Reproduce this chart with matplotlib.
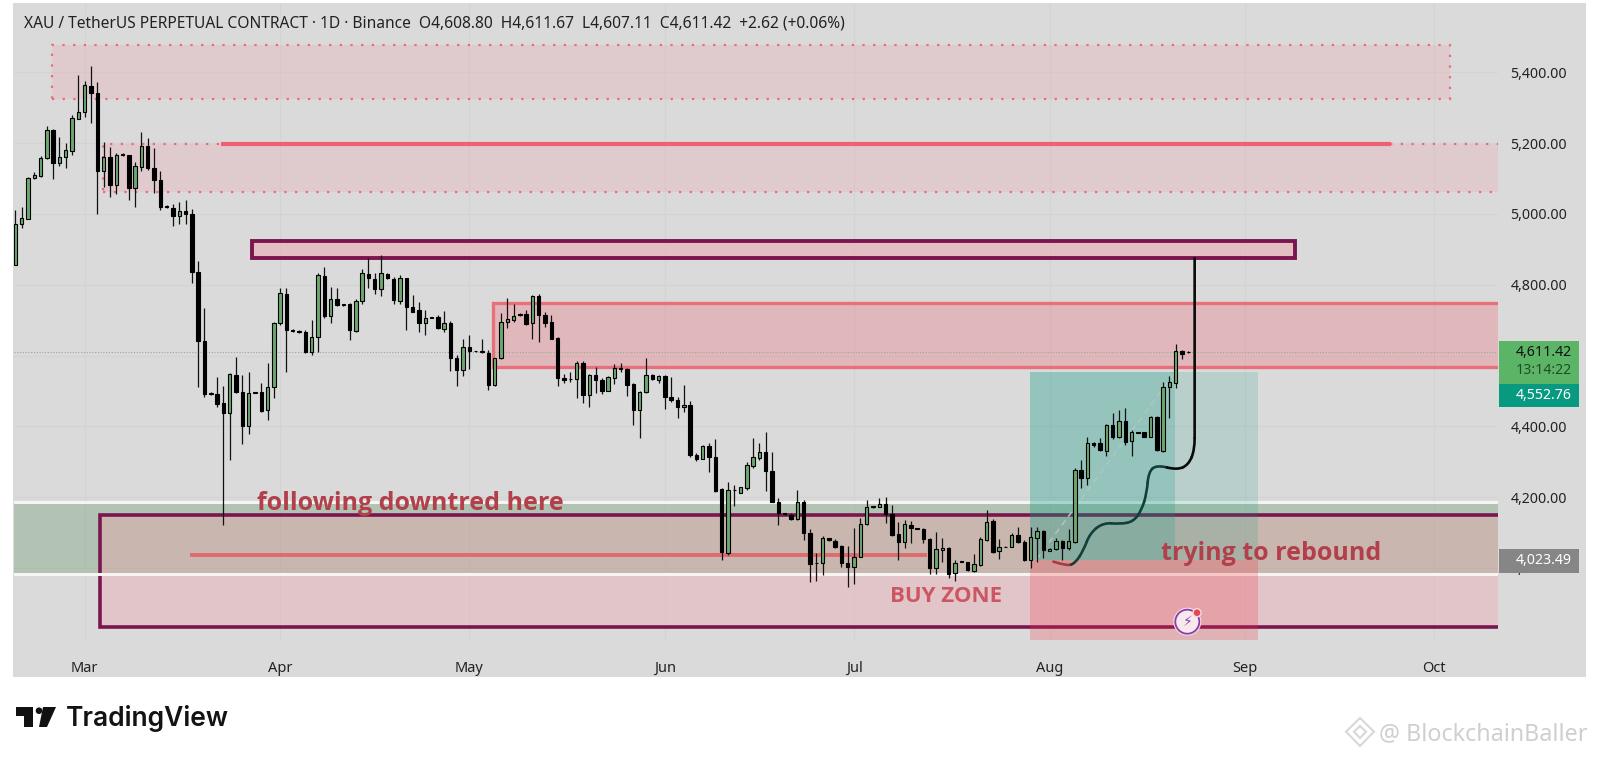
import matplotlib
matplotlib.use("Agg")
import matplotlib.pyplot as plt
from matplotlib.patches import Rectangle, PathPatch, Polygon, Circle
from matplotlib.path import Path
from matplotlib.transforms import Affine2D

# (open, high, low, close) daily candles
ohlc_feb = [
 (4856,5011,4856,4973),(4973,5020,4959,4988),(4985,5105,4985,5103),(5102,5120,5100,5110),
 (5108,5164,5105,5159),(5157,5248,5154,5238),(5238,5240,5098,5145),(5145,5217,5136,5162),
 (5162,5201,5131,5180),(5179,5280,5167,5270),(5268,5393,5268,5288)]
ohlc_mar = [
 (5287,5377,5273,5363),(5362,5418,5256,5342),(5342,5374,5001,5121),(5121,5204,5077,5162),
 (5160,5189,5047,5082),(5082,5171,5057,5167),(5169,5171,5164,5166),(5166,5167,5040,5074),
 (5074,5148,5019,5136),(5134,5233,5122,5191),(5191,5214,5124,5129),(5131,5186,5058,5097),
 (5097,5122,5011,5020),(5022,5025,5016,5019),(5017,5028,4966,4995),(4995,5035,4971,5009),
 (5009,5040,4973,4999),(4999,5013,4804,4835),(4835,4866,4512,4640),(4641,4733,4484,4492),
 (4492,4496,4490,4495),(4492,4539,4454,4463),(4465,4513,4120,4439),(4439,4550,4306,4547),
 (4545,4597,4494,4496),(4496,4545,4351,4400),(4400,4554,4378,4494),(4495,4498,4493,4497),
 (4496,4522,4442,4444),(4445,4578,4418,4512),(4512,4696,4479,4691)]
ohlc_apr = [
 (4691,4790,4686,4778),(4775,4790,4554,4671),(4673,4674,4667,4669),(4669,4671,4664,4666),
 (4668,4673,4608,4611),(4611,4700,4601,4653),(4653,4832,4611,4827),(4824,4851,4705,4712),
 (4712,4795,4691,4759),(4759,4790,4740,4743),(4746,4747,4741,4743),(4747,4749,4644,4671),
 (4670,4759,4667,4754),(4754,4844,4747,4832),(4830,4875,4790,4819),(4817,4832,4773,4787),
 (4787,4884,4769,4832),(4830,4832,4817,4818),(4817,4821,4747,4757),(4755,4827,4747,4820),
 (4818,4818,4671,4736),(4736,4771,4723,4723),(4728,4752,4668,4693),(4693,4728,4658,4707),
 (4708,4708,4705,4706),(4708,4715,4675,4677),(4675,4726,4668,4693),(4693,4698,4557,4592),
 (4592,4601,4514,4559),(4559,4647,4542,4625)]
ohlc_may = [
 (4625,4658,4561,4613),(4613,4614,4611,4612),(4609,4648,4606,4613),(4608,4616,4503,4516),
 (4516,4592,4514,4592),(4592,4720,4590,4696),(4695,4762,4679,4702),(4700,4747,4696,4712),
 (4717,4719,4713,4714),(4718,4728,4687,4689),(4691,4771,4648,4768),(4768,4775,4639,4715),
 (4715,4724,4681,4693),(4694,4715,4647,4648),(4650,4653,4514,4538),(4538,4548,4523,4530),
 (4533,4554,4526,4535),(4535,4586,4479,4580),(4580,4586,4466,4489),(4489,4549,4456,4546),
 (4545,4569,4494,4531),(4531,4536,4492,4501),(4501,4541,4499,4539),(4538,4576,4520,4564),
 (4566,4578,4554,4561),(4561,4564,4486,4517),(4519,4523,4404,4447),(4447,4499,4366,4497),
 (4496,4593,4494,4545),(4544,4547,4531,4533),(4531,4544,4522,4541)]
ohlc_jun = [
 (4542,4544,4449,4484),(4484,4540,4470,4475),(4475,4484,4423,4454),(4454,4517,4442,4461),
 (4460,4473,4314,4319),(4319,4325,4303,4309),(4309,4348,4307,4345),(4345,4352,4272,4314),
 (4314,4365,4216,4218),(4223,4226,4022,4046),(4043,4244,4036,4219),(4219,4235,4174,4221),
 (4213,4230,4211,4228),(4226,4300,4221,4291),(4288,4367,4281,4314),(4311,4354,4306,4328),
 (4328,4383,4218,4274),(4275,4328,4185,4187),(4187,4197,4122,4154),(4155,4155,4150,4152),
 (4151,4154,4135,4137),(4137,4221,4135,4187),(4187,4192,4079,4098),(4100,4109,3961,4011),
 (4013,4043,3964,4015),(4013,4090,3980,4086),(4084,4086,4077,4079),(4076,4083,4055,4060),
 (4062,4065,4002,4013),(4013,4062,3947,4002)]
ohlc_jul = [
 (4002,4112,3956,4031),(4031,4140,4030,4125),(4123,4192,4121,4173),(4174,4175,4170,4171),
 (4173,4199,4171,4180),(4182,4200,4127,4153),(4153,4177,4090,4093),(4096,4131,4023,4073),
 (4072,4135,4055,4124),(4121,4133,4070,4112),(4113,4114,4110,4111),(4109,4112,4070,4081),
 (4083,4086,3984,3999),(3999,4102,3984,4053),(4051,4086,4018,4055),(4056,4058,3971,3984),
 (3986,4022,3964,4015),(4019,4020,4016,4017),(4016,4018,3992,3994),(3992,4039,3989,4010),
 (4008,4088,4006,4081),(4078,4164,4076,4131),(4133,4137,4043,4046),(4047,4083,4024,4058),
 (4059,4061,4058,4060),(4060,4098,4058,4093),(4093,4117,4070,4073),(4073,4078,4021,4023),
 (4023,4117,3999,4088),(4086,4117,4017,4105),(4105,4107,4028,4051)]
ohlc_aug = [
 (4049,4055,4047,4053),(4053,4086,4051,4076),(4076,4080,4023,4055),(4055,4109,4051,4075),
 (4073,4283,4070,4278),(4278,4305,4227,4253),(4253,4370,4234,4352),(4352,4357,4343,4348),
 (4352,4367,4331,4333),(4331,4407,4316,4405),(4405,4437,4364,4370),(4370,4447,4367,4416),
 (4416,4451,4348,4357),(4359,4390,4315,4383),(4382,4384,4381,4384),(4383,4385,4369,4371),
 (4371,4429,4369,4427),(4427,4429,4331,4333),(4331,4526,4329,4510),(4510,4541,4423,4526),
 (4523,4633,4507,4614),(4612,4616,4589,4604),(4608.80,4611.67,4607.11,4611.42)]
ohlc = ohlc_feb + ohlc_mar + ohlc_apr + ohlc_may + ohlc_jun + ohlc_jul + ohlc_aug

price_ticks = [5400, 5200, 5000, 4800, 4600, 4400, 4200, 4000]
price_labels = ["5,400.00", "5,200.00", "5,000.00", "4,800.00", "", "4,400.00", "4,200.00", "4,000.00"]
month_ticks = [11, 42, 72, 103, 133, 164, 195, 225]
month_labels = ["Mar", "Apr", "May", "Jun", "Jul", "Aug", "Sep", "Oct"]

# drawn zones: (first candle, last candle, low price, high price)
supply_top = (5.8, 227.5, 5324, 5477)
supply_mid = (13.9, 240, 5061, 5197)
resistance = (37.6, 202.9, 4875, 4925)
red_zone = (75.8, 240, 4567, 4748)
buy_zone = (13.5, 240, 3834, 4150)
green_band = (-5, 240, 3983, 4186)
mid_line = (32.6, 218.1, 5197)
buy_line = (27.7, 144.5, 4037)
entry_price, target_price, stop_price = 4023.49, 4552.76, 3797
position_x = (160.9, 183.9, 197)
curve_x = [164.6, 166.7, 168.05, 169.4, 170.4, 172.5, 175.2, 177.3, 178.6, 179.4, 179.7, 181, 184.2, 186, 187, 187, 187]
curve_y = [4018, 4005.6, 4013, 4051, 4098, 4128, 4124, 4131, 4164, 4211, 4272, 4291, 4277, 4291, 4333, 4400, 4875]

W, H = 1600, 757
fig = plt.figure(figsize=(W / 100, H / 100), dpi=100, facecolor="white")
plt.rcParams["font.family"] = ["Noto Sans", "DejaVu Sans"]
PX = Affine2D().scale(1 / W, -1 / H).translate(0, 1) + fig.transFigure

fig.add_artist(Rectangle((13, 3), 1573, 674, transform=PX, fc="#dadada", ec="none", zorder=-5))

L, R, T, B = 14, 1498, 4, 640
ax = fig.add_axes([L / W, 1 - B / H, (R - L) / W, (B - T) / H], facecolor="none")
ax.set_xlim(-0.206, 235.1)
ax.set_ylim(3796.5, 5593.2)
for s in ax.spines.values():
    s.set_visible(False)
ax.yaxis.tick_right()
ax.set_yticks(price_ticks, price_labels, fontsize=10.2, color="#222222")
ax.set_xticks(month_ticks, month_labels, fontsize=10.5, fontweight="semibold", color="#222222")
ax.tick_params(axis="both", length=0)
ax.tick_params(axis="y", pad=9)
ax.tick_params(axis="x", pad=15)
ax.grid(True, color="#d3d3d3", lw=0.8, zorder=0)
ax.set_axisbelow(True)

PINK = "#e96a78"
DOT = (0, (1, 3.8))

def zone(z, fc, alpha, ec, lw, ls="-", zo=2):
    x0, x1, lo, hi = z
    ax.add_patch(Rectangle((x0, lo), x1 - x0, hi - lo, fc=fc, alpha=alpha, ec="none", zorder=zo))
    ax.add_patch(Rectangle((x0, lo), x1 - x0, hi - lo, fc="none", ec=ec, lw=lw, ls=ls, zorder=zo + 0.1))

zone(green_band, "#428242", 0.25, "none", 0)
ax.hlines([green_band[2], green_band[3]], green_band[0], green_band[1], color="#f7f5f3", lw=2.2, zorder=2.2)
zone(supply_top, "#f0a0a8", 0.25, PINK, 1.6, DOT)
zone(supply_mid, "#f0a0a8", 0.25, PINK, 1.6, DOT)
zone(resistance, "#f0a0a8", 0.45, "#7b1550", 2.8)
zone(red_zone, "#ee6a78", 0.30, "#e8707a", 2.4)
zone(buy_zone, "#f2a0a8", 0.35, "#7b1550", 2.6)
ax.hlines(mid_line[2], mid_line[0], mid_line[1], color="#ee6072", lw=3, zorder=3)
ax.hlines(buy_line[2], buy_line[0], buy_line[1], color="#df6a70", lw=2.8, zorder=3)

# long-position tool
x0, xm, x1 = position_x
ax.add_patch(Rectangle((x0, entry_price), x1 - x0, target_price - entry_price, fc="#089981", alpha=0.16, ec="none", zorder=3.2))
ax.add_patch(Rectangle((x0, entry_price), xm - x0, target_price - entry_price, fc="#089981", alpha=0.20, ec="none", zorder=3.3))
ax.add_patch(Rectangle((x0, stop_price), x1 - x0, entry_price - stop_price, fc="#f23645", alpha=0.24, ec="none", zorder=3.2))
ax.plot([x0 + 1, xm], [entry_price, target_price], color="#b5c4c0", lw=1.1, ls=(0, (4, 3)), zorder=3.4)

ax.axhline(4611.42, color="#8fae8f", lw=0.8, ls=(0, (1, 1.5)), zorder=3.5)

# candles
GREEN = "#6ca96f"
for i, (o, h, l, c) in enumerate(ohlc):
    ax.vlines(i, l, h, color="#111111", lw=0.9, zorder=5)
    up = c >= o
    ax.add_patch(Rectangle((i - 0.27, min(o, c)), 0.54, max(abs(c - o), 1.5),
                           fc=GREEN if up else "#000000", ec="#000000", lw=0.8, zorder=5.1))

# hand-drawn curve: one smooth quadratic spline, coloured by the zone it passes through
pts = list(zip(curve_x, curve_y))
start = pts[0]
for k in range(1, len(pts) - 1):
    end = pts[k + 1] if k == len(pts) - 2 else ((pts[k][0] + pts[k + 1][0]) / 2, (pts[k][1] + pts[k + 1][1]) / 2)
    if end[1] < entry_price + 1 and end[0] < 168.5:
        color = "#a83a42"
    elif end[0] <= xm:
        color = "#123f3c"
    else:
        color = "#0a0a0a"
    ax.add_patch(PathPatch(Path([start, pts[k], end], [Path.MOVETO, Path.CURVE3, Path.CURVE3]),
                           fc="none", ec=color, lw=1.9, capstyle="round", zorder=6))
    start = end

# annotations
RED_TXT = "#b23f4a"
fig.text(257 / W, 1 - 504 / H, "following downtred here", fontsize=18, fontweight="bold", color=RED_TXT, va="center", family="Open Sans", zorder=8)
fig.text(1161 / W, 1 - 554 / H, "trying to rebound", fontsize=18, fontweight="bold", color=RED_TXT, va="center", family="Open Sans", zorder=8)
fig.text(890 / W, 1 - 596 / H, "BUY ZONE", fontsize=16, fontweight="bold", color="#cc5662", va="center", family="Open Sans", zorder=8)

# bolt icon
fig.add_artist(Circle((1187.3, 621.7), 14, transform=PX, fc="#f8dbe6", ec="none", zorder=8))
fig.add_artist(Circle((1187.3, 621.7), 12, transform=PX, fc="#f7e9ee", ec="#8a3fa8", lw=1.3, zorder=8.1))
fig.text(1187.3 / W, 1 - 622 / H, "\u26a1", fontsize=10, color="#8a3fa8", ha="center", va="center", family="DejaVu Sans", zorder=8.2)
fig.add_artist(Circle((1197, 612.7), 4, transform=PX, fc="#e5484d", ec="#f8dbe6", lw=1, zorder=8.3))

# price labels
def tag(y0, y1, color, lines):
    fig.add_artist(Rectangle((1499, y0), 80.3, y1 - y0, transform=PX, fc=color, ec="none", zorder=9))
    for y, s, c in lines:
        fig.text(1572 / W, 1 - y / H, s, fontsize=10.2, color=c, ha="right", va="center", zorder=10)

tag(340.7, 384, "#5cb567", [(352, "4,611.42", "#111111"), (371, "13:14:22", "#1f4d28")])
tag(384, 406.7, "#089981", [(395, "4,552.76", "#ffffff")])
tag(549, 573.3, "#868686", [(561, "4,023.49", "#ffffff")])

# header
fig.text(24.5 / W, 1 - 23 / H, "XAU / TetherUS PERPETUAL CONTRACT \u00b7 1D \u00b7 Binance  O4,608.80  H4,611.67  L4,607.11  C4,611.42  +2.62 (+0.06%)",
         fontsize=11.2, color="#222222", va="center", zorder=8)

# TradingView logo
for poly in ([(16, 707), (32.7, 707), (32.7, 727), (24, 727), (24, 716), (16, 716)],
             [(43, 707), (56, 707), (47, 727), (39, 727)]):
    fig.add_artist(Polygon(poly, closed=True, transform=PX, fc="#111111", ec="none"))
fig.add_artist(Circle((39, 710.7), 3.3, transform=PX, fc="#111111", ec="none"))
fig.text(66 / W, 1 - 726 / H, "TradingView", fontsize=19, fontweight="semibold", color="#131313", va="baseline", family="Inter")

# watermark
fig.add_artist(Polygon([(1360, 718), (1374, 731.7), (1360, 746), (1346, 731.7)], closed=True, transform=PX, fc="none", ec="#d8d8d8", lw=1.5))
fig.add_artist(Polygon([(1360, 726), (1366, 731.7), (1360, 738), (1354, 731.7)], closed=True, transform=PX, fc="none", ec="#d8d8d8", lw=1.5))
fig.text(1379 / W, 1 - 740.7 / H, "@ BlockchainBaller", fontsize=16.8, color="#cfcfcf", va="baseline", family="Noto Sans")

fig.savefig("out.png", dpi=100)
